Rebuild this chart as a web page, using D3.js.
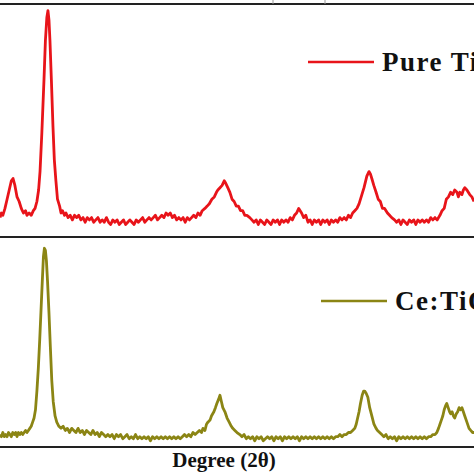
<!DOCTYPE html><html><head><meta charset="utf-8"><script src="https://cdn.jsdelivr.net/npm/d3@7"></script>
<style>body{margin:0;background:#fff}</style></head><body><svg id="c" width="474" height="474"></svg><script>
const seriesNames = ["Pure TiO₂", "Ce:TiO₂"];
const pureTiO2 = [[21.9,8],[22.0,10],[22.1,9],[22.25,12],[22.4,16],[22.55,20],[22.7,24],[22.82,25],[22.95,22],[23.1,17],[23.25,15],[23.4,12],[23.55,10],[23.7,11],[23.8,9],[23.95,10],[24.1,9],[24.25,11],[24.37,12],[24.5,15],[24.62,20],[24.72,28],[24.85,45],[25.0,68],[25.1,85],[25.2,95],[25.28,98],[25.35,94],[25.42,85],[25.52,68],[25.63,48],[25.73,33],[25.84,24],[25.95,16],[26.1,13],[26.2,10],[26.3,11],[26.45,9],[26.55,10],[26.7,8],[26.85,9],[27.0,7],[27.15,9],[27.3,8],[27.45,9],[27.6,7],[27.75,8],[27.9,6],[28.05,8],[28.2,7],[28.35,8],[28.5,6],[28.65,7],[28.8,8],[28.95,6],[29.1,7],[29.25,6],[29.4,8],[29.55,6],[29.7,5],[29.85,7],[30.0,6],[30.15,7],[30.3,5],[30.45,6],[30.6,7],[30.75,5],[30.9,6],[31.05,7],[31.2,6],[31.35,5],[31.5,7],[31.65,6],[31.8,7],[31.95,8],[32.1,6],[32.25,7],[32.4,8],[32.55,7],[32.7,8],[32.85,9],[33.0,7],[33.15,8],[33.3,9],[33.45,8],[33.6,10],[33.75,9],[33.9,10],[34.05,8],[34.2,9],[34.35,7],[34.5,8],[34.65,7],[34.8,8],[34.95,6],[35.1,8],[35.25,7],[35.4,8],[35.55,9],[35.7,8],[35.85,10],[36.0,9],[36.15,11],[36.34,12],[36.5,13],[36.65,14],[36.83,16],[37.0,17],[37.15,19],[37.25,20],[37.4,21],[37.55,22],[37.7,24],[37.8,23],[37.95,21],[38.1,19],[38.25,16],[38.4,15],[38.55,13],[38.7,13],[38.85,11],[39.0,11],[39.15,9],[39.3,9],[39.5,8],[39.65,7],[39.8,6],[39.95,7],[40.1,5],[40.25,7],[40.4,6],[40.55,5],[40.7,7],[40.85,6],[41.0,5],[41.15,7],[41.3,6],[41.45,7],[41.6,5],[41.75,7],[41.9,6],[42.05,7],[42.2,6],[42.35,8],[42.5,7],[42.65,9],[42.8,10],[42.95,12],[43.05,11],[43.15,10],[43.3,8],[43.45,9],[43.6,6],[43.75,7],[43.9,5],[44.05,7],[44.2,6],[44.35,7],[44.5,5],[44.65,7],[44.8,6],[44.95,7],[45.1,5],[45.25,7],[45.4,6],[45.55,7],[45.7,6],[45.85,8],[46.0,7],[46.15,8],[46.3,7],[46.45,9],[46.6,8],[46.75,10],[46.9,11],[47.05,12],[47.2,14],[47.4,18],[47.55,21],[47.75,26],[47.9,28],[48.0,27],[48.1,25],[48.24,22],[48.4,19],[48.55,16],[48.7,15],[48.85,12],[49.0,12],[49.2,10],[49.35,9],[49.5,8],[49.7,7],[49.85,6],[50.0,7],[50.15,5],[50.3,7],[50.45,6],[50.6,5],[50.75,7],[50.9,6],[51.05,7],[51.2,5],[51.35,7],[51.5,6],[51.65,7],[51.8,6],[51.95,7],[52.1,6],[52.25,8],[52.4,7],[52.55,8],[52.7,7],[52.9,9],[53.05,11],[53.2,12],[53.35,16],[53.5,17],[53.65,19],[53.8,18],[53.94,20],[54.1,19],[54.2,17],[54.3,19],[54.45,18],[54.55,20],[54.65,21],[54.8,20],[54.9,19],[55.0,18],[55.15,17],[55.3,15]];
const ceTiO2 = [[21.9,6],[22.0,5],[22.1,7],[22.2,5],[22.3,6],[22.4,5],[22.5,7],[22.6,6],[22.7,5],[22.8,7],[22.9,6],[23.0,7],[23.1,5],[23.2,7],[23.3,6],[23.4,7],[23.5,6],[23.6,7],[23.7,8],[23.8,7],[23.9,8],[24.0,9],[24.1,10],[24.2,12],[24.3,14],[24.4,18],[24.5,27],[24.6,38],[24.7,52],[24.79,66],[24.88,80],[24.96,92],[25.03,96],[25.1,95],[25.17,90],[25.25,80],[25.35,65],[25.45,48],[25.55,32],[25.65,22],[25.78,15],[25.9,12],[26.05,10],[26.2,9],[26.35,10],[26.5,8],[26.65,9],[26.8,7],[26.95,9],[27.1,8],[27.25,7],[27.4,9],[27.55,7],[27.7,8],[27.85,6],[28.0,8],[28.15,7],[28.3,6],[28.45,8],[28.6,6],[28.75,7],[28.9,5],[29.05,7],[29.2,6],[29.35,5],[29.5,6],[29.65,5],[29.8,6],[29.95,4],[30.1,6],[30.25,5],[30.4,6],[30.55,4],[30.7,5],[30.85,6],[31.0,4],[31.15,5],[31.3,4],[31.45,6],[31.6,4],[31.75,5],[31.9,4],[32.05,5],[32.2,4],[32.35,5],[32.5,3],[32.65,5],[32.8,4],[32.95,5],[33.1,4],[33.25,5],[33.4,4],[33.55,5],[33.7,4],[33.85,5],[34.0,4],[34.15,5],[34.3,4],[34.45,5],[34.6,4],[34.75,5],[34.9,6],[35.05,5],[35.2,6],[35.35,5],[35.5,7],[35.65,6],[35.8,7],[35.95,8],[36.1,7],[36.2,9],[36.34,8],[36.45,11],[36.55,12],[36.7,13],[36.8,15],[36.97,17],[37.08,19],[37.18,21],[37.3,23],[37.4,25],[37.5,22],[37.6,19],[37.75,17],[37.9,14],[38.05,12],[38.2,10],[38.3,9],[38.45,8],[38.6,7],[38.8,6],[38.95,5],[39.1,6],[39.25,4],[39.4,5],[39.55,4],[39.7,5],[39.85,3],[40.0,5],[40.15,4],[40.3,5],[40.45,3],[40.6,4],[40.75,5],[40.9,4],[41.05,5],[41.2,3],[41.35,5],[41.5,4],[41.65,5],[41.8,3],[41.95,5],[42.1,4],[42.25,5],[42.4,4],[42.55,5],[42.7,4],[42.85,5],[43.0,3],[43.15,5],[43.3,4],[43.45,5],[43.6,4],[43.75,5],[43.9,4],[44.05,5],[44.2,4],[44.35,5],[44.5,4],[44.65,5],[44.8,4],[44.95,5],[45.1,4],[45.25,5],[45.4,4],[45.55,5],[45.7,5],[45.85,6],[46.0,5],[46.15,6],[46.3,6],[46.45,7],[46.6,7],[46.75,8],[46.9,9],[47.0,11],[47.1,14],[47.2,17],[47.3,21],[47.42,25],[47.52,27],[47.6,27],[47.7,26],[47.82,24],[47.95,19],[48.1,15],[48.25,11],[48.4,9],[48.5,8],[48.65,7],[48.8,6],[48.95,5],[49.1,6],[49.25,4],[49.4,5],[49.55,4],[49.7,5],[49.85,3],[50.0,5],[50.15,4],[50.3,5],[50.45,4],[50.6,5],[50.75,4],[50.9,5],[51.05,4],[51.2,5],[51.35,4],[51.5,5],[51.65,4],[51.8,5],[51.95,4],[52.1,5],[52.25,5],[52.4,6],[52.55,6],[52.68,7],[52.8,9],[52.9,11],[53.0,13],[53.1,15],[53.2,18],[53.3,20],[53.38,21],[53.48,19],[53.58,17],[53.66,16],[53.76,17],[53.85,15],[53.94,14],[54.05,16],[54.15,17],[54.25,19],[54.35,18],[54.45,19],[54.55,17],[54.65,15],[54.8,12],[54.95,9],[55.07,8],[55.2,7],[55.3,7]];
const xDomain = [21.9, 55.3];
const xLabel = "Degree (2θ)";

const svg = d3.select("#c");
const x = d3.scaleLinear().domain(xDomain).range([0, 474]);
const panels = [
  {data: pureTiO2, top: 6, bottom: 236, color: "#e8141a", name: seriesNames[0], lx: 308, ly: 62},
  {data: ceTiO2, top: 240, bottom: 447, color: "#8b8514", name: seriesNames[1], lx: 321, ly: 301}
];
panels.forEach(p => {
  const y = d3.scaleLinear().domain([0, 100]).range([p.bottom, p.top]);
  svg.append("path").datum(p.data).attr("fill","none").attr("stroke",p.color).attr("stroke-width",2.8)
    .attr("stroke-linejoin","round")
    .attr("d", d3.line().x(d=>x(d[0])).y(d=>y(d[1])));
  svg.append("line").attr("x1",p.lx).attr("x2",p.lx+66).attr("y1",p.ly).attr("y2",p.ly).attr("stroke",p.color).attr("stroke-width",2.4);
  svg.append("text").attr("x",p.lx+74).attr("y",p.ly+9).text(p.name)
    .attr("font-family","Liberation Serif").attr("font-weight","bold").attr("font-size",27).attr("letter-spacing",1.5).attr("fill","#111");
});
[4, 237, 447].forEach(yy => svg.append("line").attr("x1",0).attr("x2",474).attr("y1",yy).attr("y2",yy).attr("stroke","#222").attr("stroke-width",2));
[273, 325].forEach(xx => svg.append("line").attr("x1",xx).attr("x2",xx).attr("y1",0).attr("y2",4).attr("stroke","#999").attr("stroke-width",1));
svg.append("text").attr("x",224).attr("y",467).attr("text-anchor","middle").text(xLabel)
  .attr("font-family","Liberation Serif").attr("font-weight","bold").attr("font-size",21).attr("fill","#111");
</script></body></html>
